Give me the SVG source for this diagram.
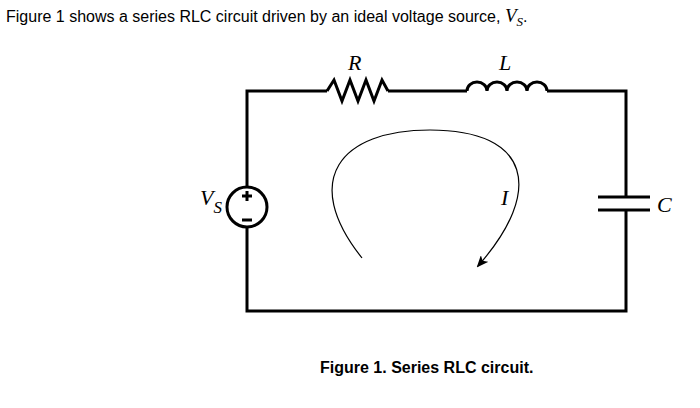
<svg xmlns="http://www.w3.org/2000/svg" width="700" height="408" viewBox="0 0 700 408">
<style>
.w{fill:none;stroke:#000;stroke-width:3;stroke-linejoin:miter}
.m{font-family:"Liberation Serif",serif;font-style:italic;font-size:22px}
.s{font-family:"Liberation Sans",sans-serif;font-size:16px}
</style>
<defs><marker id="ah" markerWidth="12" markerHeight="10" refX="10" refY="5" orient="auto" markerUnits="userSpaceOnUse"><path d="M0,0 L12,5 L0,10 L3,5 Z" fill="#000"/></marker></defs>
<rect width="700" height="408" fill="#fff"/>
<text class="s" x="6" y="22">Figure 1 shows a series RLC circuit driven by an ideal voltage source, <tspan font-family="Liberation Serif" font-style="italic" font-size="19">V</tspan><tspan font-family="Liberation Serif" font-style="italic" font-size="13" dy="4">S</tspan><tspan dy="-4">.</tspan></text>
<g id="connectors">
<path class="w" d="M247,187 V91 H327 M388,91 H467 M547,91 H626 V197 M626,210 V311 H247 V227"/>
</g>
<g id="R"><path class="w" d="M327,91 L334,80 L342,101 L350,80 L358,101 L366,80 L374,101 L382,80 L388,91"/><text class="m" x="348" y="70">R</text></g>
<g id="L"><path class="w" d="M467,91 A10,9 0 0 1 487,91 A10,9 0 0 1 507,91 A10,9 0 0 1 527,91 A10,9 0 0 1 547,91"/><text class="m" x="499" y="70">L</text></g>
<g id="C"><path class="w" d="M598,197 H650 M598,210 H650"/><text class="m" x="657" y="212">C</text></g>
<g id="Vs"><circle class="w" cx="247" cy="207" r="20"/><path d="M242,196 H252 M247,191 V201 M242,220 H252" stroke="#000" stroke-width="3"/><text class="m" x="200" y="205">V<tspan font-size="17" dy="8">S</tspan></text></g>
<g id="I"><path d="M362,258 C300,180 340,130 430,130 C530,130 545,190 478,266" fill="none" stroke="#000" stroke-width="1.2" marker-end="url(#ah)"/><text class="m" x="501" y="205">I</text></g>
<text class="s" x="320" y="373" font-weight="bold">Figure 1. Series RLC circuit.</text>
</svg>
